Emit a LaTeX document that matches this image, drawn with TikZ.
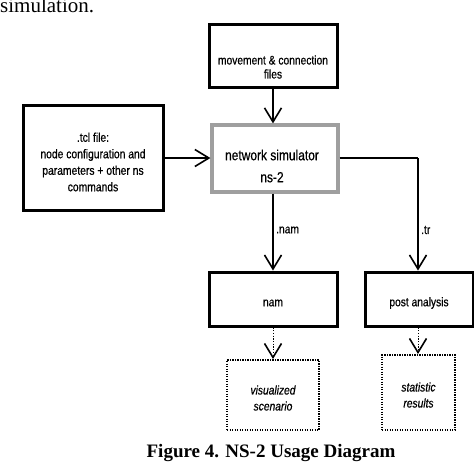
\documentclass[tikz,border=0pt]{standalone}
\usepackage{fontspec}
\setmainfont{Liberation Serif}
\newfontfamily\narrowfont[FakeStretch=0.82,FakeBold=0.6]{Liberation Sans}
\usetikzlibrary{arrows.meta}
\begin{document}
\begin{tikzpicture}[x=1pt,y=-1pt,
  box/.style={draw=black,line width=3pt,fill=white,inner sep=0pt},
  simbox/.style={draw=gray!75,line width=3.2pt,fill=white,inner sep=0pt},
  dotbox/.style={draw=black,line width=2pt,dash pattern=on 1.2pt off 1.3pt,inner sep=0pt},
  lbl/.style={font=\narrowfont\fontsize{12.5}{14}\selectfont,align=center,inner sep=0pt},
  conn/.style={line width=2pt,-{Straight Barb[length=14pt,width=17pt,line width=1.6pt]}},
  dconn/.style={line width=0.9pt,dash pattern=on 1.2pt off 1.5pt,-{Straight Barb[length=14pt,width=17pt,line width=1.6pt,sep=0pt]}}
]
\useasboundingbox (0,0) rectangle (474,467);
\node[anchor=base west,inner sep=0pt,font=\fontsize{21}{24}\selectfont] (top) at (0,12.5) {simulation.};

\node[box,minimum width=128pt,minimum height=63pt] (mov) at (273,55.5) {};
\node[lbl] (movt) at (273,67) {movement \& connection\\files};

\node[box,minimum width=140pt,minimum height=105pt] (tcl) at (93,157.5) {};
\node[lbl,font=\narrowfont\fontsize{12.6}{16.5}\selectfont] (tclt) at (93,162) {.tcl file:\\node configuration and\\parameters + other ns\\commands};

\node[simbox,minimum width=126pt,minimum height=67pt] (sim) at (275,158.5) {};
\node[lbl,font=\narrowfont\fontsize{14.6}{22}\selectfont] (simt) at (272,166) {network simulator\\ns-2};

\node[box,minimum width=128pt,minimum height=54pt] (nam) at (273,299) {};
\node[lbl] (namt) at (273,303) {nam};

\node[box,minimum width=108pt,minimum height=54pt] (post) at (419,299) {};
\node[lbl] (postt) at (419,303) {post analysis};

\node[dotbox,minimum width=92pt,minimum height=70pt] (vis) at (273,395) {};
\node[lbl,font=\narrowfont\itshape\fontsize{12.5}{16}\selectfont] (vist) at (273,398) {visualized\\scenario};

\node[dotbox,minimum width=73pt,minimum height=75pt] (stat) at (418.5,392.5) {};
\node[lbl,font=\narrowfont\itshape\fontsize{12.5}{16}\selectfont] (statt) at (418.5,395) {statistic\\results};

\coordinate (corner) at (418,158);

\draw[conn] (mov.south) -- (sim.north -| mov.south);
\draw[conn] (tcl.east |- corner) -- (sim.west |- corner);
\draw[line width=2pt] (sim.east |- corner) -- (corner);
\draw[conn] (corner) -- (corner |- post.north);
\draw[conn] (sim.south -| nam.north) -- (nam.north);
\draw[dconn] (nam.south) -- (vis.north);
\draw[dconn] (post.south -| corner) -- (stat.north -| corner);

\node[lbl,anchor=west] (nl) at (276,230) {.nam};
\node[lbl,anchor=west] (tl) at (421,230) {.tr};

\node[font=\bfseries\fontsize{19}{22}\selectfont,inner sep=0pt,anchor=base] (cap) at (271,457) {Figure 4. NS-2 Usage Diagram};
\end{tikzpicture}
\end{document}
